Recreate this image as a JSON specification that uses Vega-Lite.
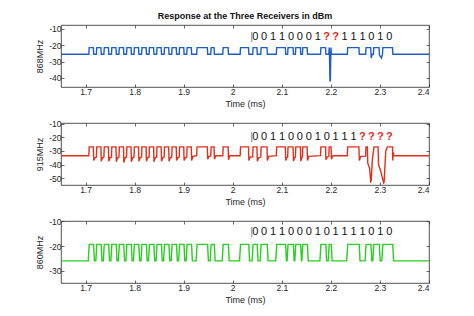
{
  "$schema": "https://vega.github.io/schema/vega-lite/v6.json",
  "background": "white",
  "padding": {"left": 35, "top": 11, "right": 5, "bottom": 5},
  "datasets": {
    "s868": [
      {"t":1.65,"v":-25.5},
      {"t":1.7067,"v":-25.5},{"t":1.7075,"v":-21.5},{"t":1.7159,"v":-21.5},{"t":1.7167,"v":-25.5},
      {"t":1.7221,"v":-25.5},{"t":1.7229,"v":-21.5},{"t":1.7313,"v":-21.5},{"t":1.7321,"v":-25.5},
      {"t":1.7374,"v":-25.5},{"t":1.7382,"v":-21.5},{"t":1.7466,"v":-21.5},{"t":1.7474,"v":-25.5},
      {"t":1.7528,"v":-25.5},{"t":1.7536,"v":-21.5},{"t":1.7620,"v":-21.5},{"t":1.7628,"v":-25.5},
      {"t":1.7681,"v":-25.5},{"t":1.7689,"v":-21.5},{"t":1.7773,"v":-21.5},{"t":1.7781,"v":-25.5},
      {"t":1.7835,"v":-25.5},{"t":1.7843,"v":-21.5},{"t":1.7927,"v":-21.5},{"t":1.7935,"v":-25.5},
      {"t":1.7988,"v":-25.5},{"t":1.7996,"v":-21.5},{"t":1.8080,"v":-21.5},{"t":1.8088,"v":-25.5},
      {"t":1.8142,"v":-25.5},{"t":1.8150,"v":-21.5},{"t":1.8234,"v":-21.5},{"t":1.8242,"v":-25.5},
      {"t":1.8295,"v":-25.5},{"t":1.8303,"v":-21.5},{"t":1.8387,"v":-21.5},{"t":1.8395,"v":-25.5},
      {"t":1.8449,"v":-25.5},{"t":1.8457,"v":-21.5},{"t":1.8541,"v":-21.5},{"t":1.8549,"v":-25.5},
      {"t":1.8602,"v":-25.5},{"t":1.8610,"v":-21.5},{"t":1.8694,"v":-21.5},{"t":1.8702,"v":-25.5},
      {"t":1.8756,"v":-25.5},{"t":1.8764,"v":-21.5},{"t":1.8848,"v":-21.5},{"t":1.8856,"v":-25.5},
      {"t":1.8909,"v":-25.5},{"t":1.8917,"v":-21.5},{"t":1.9001,"v":-21.5},{"t":1.9009,"v":-25.5},
      {"t":1.9063,"v":-25.5},{"t":1.9071,"v":-21.5},{"t":1.9155,"v":-21.5},{"t":1.9163,"v":-25.5},
      {"t":1.9265,"v":-25.5},{"t":1.9273,"v":-21.5},{"t":1.9482,"v":-21.5},{"t":1.9490,"v":-25.5},
      {"t":1.9552,"v":-25.5},{"t":1.9560,"v":-21.5},{"t":1.9619,"v":-21.5},{"t":1.9627,"v":-25.5},
      {"t":1.9797,"v":-25.5},{"t":1.9805,"v":-21.5},{"t":1.9906,"v":-21.5},{"t":1.9914,"v":-25.5},
      {"t":2.0151,"v":-25.5},{"t":2.0159,"v":-21.5},{"t":2.0321,"v":-21.5},{"t":2.0329,"v":-25.5},
      {"t":2.0407,"v":-25.5},{"t":2.0415,"v":-21.5},{"t":2.0493,"v":-21.5},{"t":2.0501,"v":-25.5},
      {"t":2.0571,"v":-25.5},{"t":2.0579,"v":-21.5},{"t":2.0698,"v":-21.5},{"t":2.0706,"v":-25.5},
      {"t":2.0888,"v":-25.5},{"t":2.0896,"v":-21.5},{"t":2.1072,"v":-21.5},{"t":2.1080,"v":-25.5},
      {"t":2.1119,"v":-25.5},{"t":2.1127,"v":-21.5},{"t":2.1230,"v":-21.5},{"t":2.1238,"v":-25.5},
      {"t":2.1277,"v":-25.5},{"t":2.1285,"v":-21.5},{"t":2.1379,"v":-21.5},{"t":2.1387,"v":-25.5},
      {"t":2.1420,"v":-25.5},{"t":2.1428,"v":-21.5},{"t":2.1516,"v":-21.5},{"t":2.1524,"v":-25.5},
      {"t":2.1789,"v":-25.5},{"t":2.1797,"v":-21.5},{"t":2.1891,"v":-21.5},{"t":2.1899,"v":-25.5},
      {"t":2.1958,"v":-25.5},{"t":2.1966,"v":-21.5},{"t":2.1970,"v":-22},{"t":2.1978,"v":-36},{"t":2.1982,"v":-42.3},{"t":2.1986,"v":-39},{"t":2.1990,"v":-41.5},{"t":2.1996,"v":-30},{"t":2.2003,"v":-21.5},{"t":2.2011,"v":-25.5},
      {"t":2.2335,"v":-25.5},{"t":2.2343,"v":-21.5},{"t":2.2572,"v":-21.5},{"t":2.2580,"v":-25.5},
      {"t":2.2709,"v":-25.5},{"t":2.2717,"v":-21.5},{"t":2.2812,"v":-21.5},{"t":2.2822,"v":-27.8},{"t":2.2845,"v":-25.5},
      {"t":2.2867,"v":-25.5},{"t":2.2875,"v":-21.5},{"t":2.2982,"v":-21.5},{"t":2.2990,"v":-26},{"t":2.3030,"v":-27.8},{"t":2.3051,"v":-25.5},
      {"t":2.3059,"v":-21.5},{"t":2.3256,"v":-21.5},{"t":2.3264,"v":-25.5},
      {"t":2.4,"v":-25.5}
    ],
    "s915": [
      {"t":1.65,"v":-33.5},
      {"t":1.7067,"v":-33.5},{"t":1.7075,"v":-27},{"t":1.7159,"v":-27},{"t":1.7167,"v":-37},{"t":1.7190,"v":-35},
      {"t":1.7221,"v":-34.5},{"t":1.7229,"v":-27},{"t":1.7313,"v":-27},{"t":1.7321,"v":-37.5},{"t":1.7345,"v":-35},
      {"t":1.7374,"v":-34.5},{"t":1.7382,"v":-27},{"t":1.7466,"v":-27},{"t":1.7474,"v":-37.5},{"t":1.7498,"v":-35},
      {"t":1.7528,"v":-34.5},{"t":1.7536,"v":-27},{"t":1.7620,"v":-27},{"t":1.7628,"v":-38},{"t":1.7652,"v":-35},
      {"t":1.7681,"v":-34.5},{"t":1.7689,"v":-27},{"t":1.7773,"v":-27},{"t":1.7781,"v":-38.5},{"t":1.7805,"v":-35},
      {"t":1.7835,"v":-34.5},{"t":1.7843,"v":-27},{"t":1.7927,"v":-27},{"t":1.7935,"v":-38},{"t":1.7959,"v":-35},
      {"t":1.7988,"v":-34.5},{"t":1.7996,"v":-27},{"t":1.8080,"v":-27},{"t":1.8088,"v":-37.5},{"t":1.8112,"v":-35},
      {"t":1.8142,"v":-34.5},{"t":1.8150,"v":-27},{"t":1.8234,"v":-27},{"t":1.8242,"v":-37.5},{"t":1.8266,"v":-35},
      {"t":1.8295,"v":-34.5},{"t":1.8303,"v":-27},{"t":1.8387,"v":-27},{"t":1.8395,"v":-38},{"t":1.8419,"v":-35},
      {"t":1.8449,"v":-34.5},{"t":1.8457,"v":-27},{"t":1.8541,"v":-27},{"t":1.8549,"v":-37.5},{"t":1.8573,"v":-35},
      {"t":1.8602,"v":-34.5},{"t":1.8610,"v":-27},{"t":1.8694,"v":-27},{"t":1.8702,"v":-37.5},{"t":1.8726,"v":-35},
      {"t":1.8756,"v":-34.5},{"t":1.8764,"v":-27},{"t":1.8848,"v":-27},{"t":1.8856,"v":-37},{"t":1.8880,"v":-35},
      {"t":1.8909,"v":-34.5},{"t":1.8917,"v":-27},{"t":1.9001,"v":-27},{"t":1.9009,"v":-37},{"t":1.9033,"v":-35},
      {"t":1.9063,"v":-34.5},{"t":1.9071,"v":-27},{"t":1.9155,"v":-27},{"t":1.9163,"v":-37},{"t":1.9190,"v":-34},
      {"t":1.9265,"v":-33.5},{"t":1.9273,"v":-27},{"t":1.9482,"v":-27},{"t":1.9490,"v":-36},{"t":1.9515,"v":-34},
      {"t":1.9552,"v":-33.7},{"t":1.9560,"v":-27},{"t":1.9619,"v":-27},{"t":1.9627,"v":-36},{"t":1.9655,"v":-33.5},
      {"t":1.9797,"v":-33.5},{"t":1.9805,"v":-27},{"t":1.9906,"v":-27},{"t":1.9914,"v":-36.5},{"t":1.9940,"v":-33.5},
      {"t":2.0151,"v":-33.5},{"t":2.0159,"v":-27},{"t":2.0321,"v":-27},{"t":2.0329,"v":-37},{"t":2.0355,"v":-34.5},
      {"t":2.0407,"v":-34.3},{"t":2.0415,"v":-27},{"t":2.0493,"v":-27},{"t":2.0501,"v":-37.5},{"t":2.0527,"v":-35},
      {"t":2.0571,"v":-34.5},{"t":2.0579,"v":-27},{"t":2.0698,"v":-27},{"t":2.0706,"v":-37},{"t":2.0735,"v":-34},
      {"t":2.0888,"v":-33.5},{"t":2.0896,"v":-27},{"t":2.1072,"v":-27},{"t":2.1080,"v":-37},{"t":2.1100,"v":-35},
      {"t":2.1119,"v":-34.5},{"t":2.1127,"v":-27},{"t":2.1230,"v":-27},{"t":2.1238,"v":-37.5},{"t":2.1260,"v":-35},
      {"t":2.1277,"v":-34.5},{"t":2.1285,"v":-27},{"t":2.1379,"v":-27},{"t":2.1387,"v":-37.5},{"t":2.1405,"v":-35},
      {"t":2.1420,"v":-34.5},{"t":2.1428,"v":-27},{"t":2.1516,"v":-27},{"t":2.1524,"v":-37},{"t":2.1550,"v":-34},
      {"t":2.1789,"v":-33.5},{"t":2.1797,"v":-27},{"t":2.1891,"v":-27},{"t":2.1899,"v":-36.5},{"t":2.1925,"v":-34.5},
      {"t":2.1958,"v":-34},{"t":2.1966,"v":-27},{"t":2.2003,"v":-27},{"t":2.2011,"v":-36},{"t":2.2040,"v":-33.5},
      {"t":2.2335,"v":-33.5},{"t":2.2343,"v":-27},{"t":2.2572,"v":-27},{"t":2.2580,"v":-37},{"t":2.2610,"v":-34},
      {"t":2.2709,"v":-33.8},{"t":2.2715,"v":-27},{"t":2.2744,"v":-27},{"t":2.2752,"v":-39},{"t":2.2790,"v":-43},{"t":2.2812,"v":-52.5},{"t":2.2822,"v":-52},{"t":2.2846,"v":-36},{"t":2.2880,"v":-27},
      {"t":2.2962,"v":-27},{"t":2.2972,"v":-40},{"t":2.3017,"v":-45},{"t":2.3075,"v":-53.5},{"t":2.3085,"v":-53},{"t":2.3119,"v":-30},{"t":2.3153,"v":-27},
      {"t":2.3256,"v":-27},{"t":2.3262,"v":-37},{"t":2.3272,"v":-31},{"t":2.3285,"v":-33.5},
      {"t":2.4,"v":-33.5}
    ],
    "s860": [
      {"t":1.65,"v":-26},
      {"t":1.7055,"v":-26},{"t":1.7075,"v":-19.3},{"t":1.7165,"v":-19.3},{"t":1.7181,"v":-26},
      {"t":1.7209,"v":-26},{"t":1.7229,"v":-19.3},{"t":1.7319,"v":-19.3},{"t":1.7335,"v":-26},
      {"t":1.7362,"v":-26},{"t":1.7382,"v":-19.3},{"t":1.7472,"v":-19.3},{"t":1.7488,"v":-26},
      {"t":1.7516,"v":-26},{"t":1.7536,"v":-19.3},{"t":1.7626,"v":-19.3},{"t":1.7642,"v":-26},
      {"t":1.7669,"v":-26},{"t":1.7689,"v":-19.3},{"t":1.7779,"v":-19.3},{"t":1.7795,"v":-26},
      {"t":1.7823,"v":-26},{"t":1.7843,"v":-19.3},{"t":1.7933,"v":-19.3},{"t":1.7949,"v":-26},
      {"t":1.7976,"v":-26},{"t":1.7996,"v":-19.3},{"t":1.8086,"v":-19.3},{"t":1.8102,"v":-26},
      {"t":1.8130,"v":-26},{"t":1.8150,"v":-19.3},{"t":1.8240,"v":-19.3},{"t":1.8256,"v":-26},
      {"t":1.8283,"v":-26},{"t":1.8303,"v":-19.3},{"t":1.8393,"v":-19.3},{"t":1.8409,"v":-26},
      {"t":1.8437,"v":-26},{"t":1.8457,"v":-19.3},{"t":1.8547,"v":-19.3},{"t":1.8563,"v":-26},
      {"t":1.8590,"v":-26},{"t":1.8610,"v":-19.3},{"t":1.8700,"v":-19.3},{"t":1.8716,"v":-26},
      {"t":1.8744,"v":-26},{"t":1.8764,"v":-19.3},{"t":1.8854,"v":-19.3},{"t":1.8870,"v":-26},
      {"t":1.8897,"v":-26},{"t":1.8917,"v":-19.3},{"t":1.9007,"v":-19.3},{"t":1.9023,"v":-26},
      {"t":1.9051,"v":-26},{"t":1.9071,"v":-19.3},{"t":1.9161,"v":-19.3},{"t":1.9177,"v":-26},
      {"t":1.9253,"v":-26},{"t":1.9273,"v":-19.3},{"t":1.9488,"v":-19.3},{"t":1.9504,"v":-26},
      {"t":1.9540,"v":-26},{"t":1.9560,"v":-19.3},{"t":1.9625,"v":-19.3},{"t":1.9641,"v":-26},
      {"t":1.9785,"v":-26},{"t":1.9805,"v":-19.3},{"t":1.9912,"v":-19.3},{"t":1.9928,"v":-26},
      {"t":2.0139,"v":-26},{"t":2.0159,"v":-19.3},{"t":2.0327,"v":-19.3},{"t":2.0343,"v":-26},
      {"t":2.0395,"v":-26},{"t":2.0415,"v":-19.3},{"t":2.0499,"v":-19.3},{"t":2.0515,"v":-26},
      {"t":2.0559,"v":-26},{"t":2.0579,"v":-19.3},{"t":2.0704,"v":-19.3},{"t":2.0720,"v":-26},
      {"t":2.0876,"v":-26},{"t":2.0896,"v":-19.3},{"t":2.1078,"v":-19.3},{"t":2.1094,"v":-26},
      {"t":2.1107,"v":-26},{"t":2.1127,"v":-19.3},{"t":2.1236,"v":-19.3},{"t":2.1252,"v":-26},
      {"t":2.1265,"v":-26},{"t":2.1285,"v":-19.3},{"t":2.1385,"v":-19.3},{"t":2.1401,"v":-26},
      {"t":2.1408,"v":-26},{"t":2.1428,"v":-19.3},{"t":2.1522,"v":-19.3},{"t":2.1538,"v":-26},
      {"t":2.1777,"v":-26},{"t":2.1797,"v":-19.3},{"t":2.1897,"v":-19.3},{"t":2.1913,"v":-26},
      {"t":2.1946,"v":-26},{"t":2.1966,"v":-19.3},{"t":2.2009,"v":-19.3},{"t":2.2025,"v":-26},
      {"t":2.2323,"v":-26},{"t":2.2343,"v":-19.3},{"t":2.2578,"v":-19.3},{"t":2.2594,"v":-26},
      {"t":2.2697,"v":-26},{"t":2.2717,"v":-19.3},{"t":2.2818,"v":-19.3},{"t":2.2834,"v":-26},
      {"t":2.2855,"v":-26},{"t":2.2875,"v":-19.3},{"t":2.2988,"v":-19.3},{"t":2.3004,"v":-26},
      {"t":2.3039,"v":-26},{"t":2.3059,"v":-19.3},{"t":2.3262,"v":-19.3},{"t":2.3278,"v":-26},
      {"t":2.4,"v":-26}
    ],
    "bits868": [
      {"t":2.0387,"c":"|","k":"start"},
      {"t":2.0458,"c":"0","k":"bit"},{"t":2.0640,"c":"0","k":"bit"},{"t":2.0822,"c":"1","k":"bit"},{"t":2.1005,"c":"1","k":"bit"},
      {"t":2.1187,"c":"0","k":"bit"},{"t":2.1369,"c":"0","k":"bit"},{"t":2.1551,"c":"0","k":"bit"},{"t":2.1733,"c":"1","k":"bit"},
      {"t":2.1915,"c":"?","k":"unknown"},{"t":2.2097,"c":"?","k":"unknown"},{"t":2.2280,"c":"1","k":"bit"},{"t":2.2462,"c":"1","k":"bit"},
      {"t":2.2644,"c":"1","k":"bit"},{"t":2.2826,"c":"0","k":"bit"},{"t":2.3008,"c":"1","k":"bit"},{"t":2.3190,"c":"0","k":"bit"}
    ],
    "bits915": [
      {"t":2.0387,"c":"|","k":"start"},
      {"t":2.0458,"c":"0","k":"bit"},{"t":2.0640,"c":"0","k":"bit"},{"t":2.0822,"c":"1","k":"bit"},{"t":2.1005,"c":"1","k":"bit"},
      {"t":2.1187,"c":"0","k":"bit"},{"t":2.1369,"c":"0","k":"bit"},{"t":2.1551,"c":"0","k":"bit"},{"t":2.1733,"c":"1","k":"bit"},
      {"t":2.1915,"c":"0","k":"bit"},{"t":2.2097,"c":"1","k":"bit"},{"t":2.2280,"c":"1","k":"bit"},{"t":2.2462,"c":"1","k":"bit"},
      {"t":2.2644,"c":"?","k":"unknown"},{"t":2.2826,"c":"?","k":"unknown"},{"t":2.3008,"c":"?","k":"unknown"},{"t":2.3190,"c":"?","k":"unknown"}
    ],
    "bits860": [
      {"t":2.0387,"c":"|","k":"start"},
      {"t":2.0458,"c":"0","k":"bit"},{"t":2.0640,"c":"0","k":"bit"},{"t":2.0822,"c":"1","k":"bit"},{"t":2.1005,"c":"1","k":"bit"},
      {"t":2.1187,"c":"0","k":"bit"},{"t":2.1369,"c":"0","k":"bit"},{"t":2.1551,"c":"0","k":"bit"},{"t":2.1733,"c":"1","k":"bit"},
      {"t":2.1915,"c":"0","k":"bit"},{"t":2.2097,"c":"1","k":"bit"},{"t":2.2280,"c":"1","k":"bit"},{"t":2.2462,"c":"1","k":"bit"},
      {"t":2.2644,"c":"1","k":"bit"},{"t":2.2826,"c":"0","k":"bit"},{"t":2.3008,"c":"1","k":"bit"},{"t":2.3190,"c":"0","k":"bit"}
    ]
  },
  "spacing": 10,
  "vconcat": [
    {
      "width": 368, "height": 62,
      "title": {"text": "Response at the Three Receivers in dBm", "anchor": "middle", "fontSize": 9, "fontWeight": "bold", "color": "#111111", "offset": 4},
      "layer": [
        {
          "data": {"name": "s868"},
          "mark": {"type": "line", "color": "#1f5fc4", "strokeWidth": 1.4, "clip": true},
          "encoding": {
            "x": {"field": "t", "type": "quantitative", "scale": {"domain": [1.65, 2.4], "nice": false, "zero": false},
                  "axis": {"orient": "bottom", "title": "Time (ms)", "values": [1.7, 1.8, 1.9, 2.0, 2.1, 2.2, 2.3, 2.4], "format": ".1~f"}},
            "y": {"field": "v", "type": "quantitative", "scale": {"domain": [-45.5, -7.7], "nice": false, "zero": false},
                  "axis": {"orient": "left", "title": "868MHz", "values": [-40, -30, -20, -10], "labelExpr": "'' + datum.value"}}
          }
        },
        {
          "data": {"name": "bits868"},
          "transform": [{"filter": "datum.k == 'bit'"}],
          "mark": {"type": "text", "fontSize": 11, "color": "#111111"},
          "encoding": {
            "x": {"field": "t", "type": "quantitative", "axis": {"orient": "top", "labels": false, "title": null, "values": [1.7, 1.8, 1.9, 2.0, 2.1, 2.2, 2.3, 2.4]}},
            "y": {"datum": -14.9, "type": "quantitative", "axis": {"orient": "right", "labels": false, "title": null, "values": [-40, -30, -20, -10]}},
            "text": {"field": "c"}
          }
        },
        {
          "data": {"name": "bits868"},
          "transform": [{"filter": "datum.k == 'start'"}],
          "mark": {"type": "text", "fontSize": 11, "color": "#777777"},
          "encoding": {
            "x": {"field": "t", "type": "quantitative", "axis": null},
            "y": {"datum": -14.9, "type": "quantitative", "axis": null},
            "text": {"field": "c"}
          }
        },
        {
          "data": {"name": "bits868"},
          "transform": [{"filter": "datum.k == 'unknown'"}],
          "mark": {"type": "text", "fontSize": 11, "fontWeight": "bold", "color": "#e8261b"},
          "encoding": {
            "x": {"field": "t", "type": "quantitative", "axis": null},
            "y": {"datum": -14.9, "type": "quantitative", "axis": null},
            "text": {"field": "c"}
          }
        }
      ],
      "resolve": {"axis": {"x": "independent", "y": "independent"}}
    },
    {
      "width": 368, "height": 62,
      "layer": [
        {
          "data": {"name": "s915"},
          "mark": {"type": "line", "color": "#e0301c", "strokeWidth": 1.4, "clip": true},
          "encoding": {
            "x": {"field": "t", "type": "quantitative", "scale": {"domain": [1.65, 2.4], "nice": false, "zero": false},
                  "axis": {"orient": "bottom", "title": "Time (ms)", "values": [1.7, 1.8, 1.9, 2.0, 2.1, 2.2, 2.3, 2.4], "format": ".1~f"}},
            "y": {"field": "v", "type": "quantitative", "scale": {"domain": [-55, -9.5], "nice": false, "zero": false},
                  "axis": {"orient": "left", "title": "915MHz", "values": [-50, -40, -30, -20, -10], "labelExpr": "'' + datum.value"}}
          }
        },
        {
          "data": {"name": "bits915"},
          "transform": [{"filter": "datum.k == 'bit'"}],
          "mark": {"type": "text", "fontSize": 11, "color": "#111111"},
          "encoding": {
            "x": {"field": "t", "type": "quantitative", "axis": {"orient": "top", "labels": false, "title": null, "values": [1.7, 1.8, 1.9, 2.0, 2.1, 2.2, 2.3, 2.4]}},
            "y": {"datum": -20.1, "type": "quantitative", "axis": {"orient": "right", "labels": false, "title": null, "values": [-50, -40, -30, -20, -10]}},
            "text": {"field": "c"}
          }
        },
        {
          "data": {"name": "bits915"},
          "transform": [{"filter": "datum.k == 'start'"}],
          "mark": {"type": "text", "fontSize": 11, "color": "#777777"},
          "encoding": {
            "x": {"field": "t", "type": "quantitative", "axis": null},
            "y": {"datum": -20.1, "type": "quantitative", "axis": null},
            "text": {"field": "c"}
          }
        },
        {
          "data": {"name": "bits915"},
          "transform": [{"filter": "datum.k == 'unknown'"}],
          "mark": {"type": "text", "fontSize": 11, "fontWeight": "bold", "color": "#e8261b"},
          "encoding": {
            "x": {"field": "t", "type": "quantitative", "axis": null},
            "y": {"datum": -20.1, "type": "quantitative", "axis": null},
            "text": {"field": "c"}
          }
        }
      ],
      "resolve": {"axis": {"x": "independent", "y": "independent"}}
    },
    {
      "width": 368, "height": 62,
      "layer": [
        {
          "data": {"name": "s860"},
          "mark": {"type": "line", "color": "#27cf1e", "strokeWidth": 1.4, "clip": true},
          "encoding": {
            "x": {"field": "t", "type": "quantitative", "scale": {"domain": [1.65, 2.4], "nice": false, "zero": false},
                  "axis": {"orient": "bottom", "title": "Time (ms)", "values": [1.7, 1.8, 1.9, 2.0, 2.1, 2.2, 2.3, 2.4], "format": ".1~f"}},
            "y": {"field": "v", "type": "quantitative", "scale": {"domain": [-35, -9.8], "nice": false, "zero": false},
                  "axis": {"orient": "left", "title": "860MHz", "values": [-30, -20, -10], "labelExpr": "'' + datum.value"}}
          }
        },
        {
          "data": {"name": "bits860"},
          "transform": [{"filter": "datum.k == 'bit'"}],
          "mark": {"type": "text", "fontSize": 11, "color": "#111111"},
          "encoding": {
            "x": {"field": "t", "type": "quantitative", "axis": {"orient": "top", "labels": false, "title": null, "values": [1.7, 1.8, 1.9, 2.0, 2.1, 2.2, 2.3, 2.4]}},
            "y": {"datum": -14.3, "type": "quantitative", "axis": {"orient": "right", "labels": false, "title": null, "values": [-30, -20, -10]}},
            "text": {"field": "c"}
          }
        },
        {
          "data": {"name": "bits860"},
          "transform": [{"filter": "datum.k == 'start'"}],
          "mark": {"type": "text", "fontSize": 11, "color": "#777777"},
          "encoding": {
            "x": {"field": "t", "type": "quantitative", "axis": null},
            "y": {"datum": -14.3, "type": "quantitative", "axis": null},
            "text": {"field": "c"}
          }
        }
      ],
      "resolve": {"axis": {"x": "independent", "y": "independent"}}
    }
  ],
  "config": {
    "font": "Liberation Sans",
    "view": {"stroke": "#262626", "strokeWidth": 0.8},
    "axis": {
      "domain": false, "grid": false,
      "tickColor": "#262626", "tickSize": -3, "tickWidth": 0.7,
      "labelColor": "#262626", "labelFontSize": 8.5, "labelPadding": 3,
      "titleColor": "#262626", "titleFontSize": 9, "titleFontWeight": "normal", "titlePadding": 4
    }
  }
}
